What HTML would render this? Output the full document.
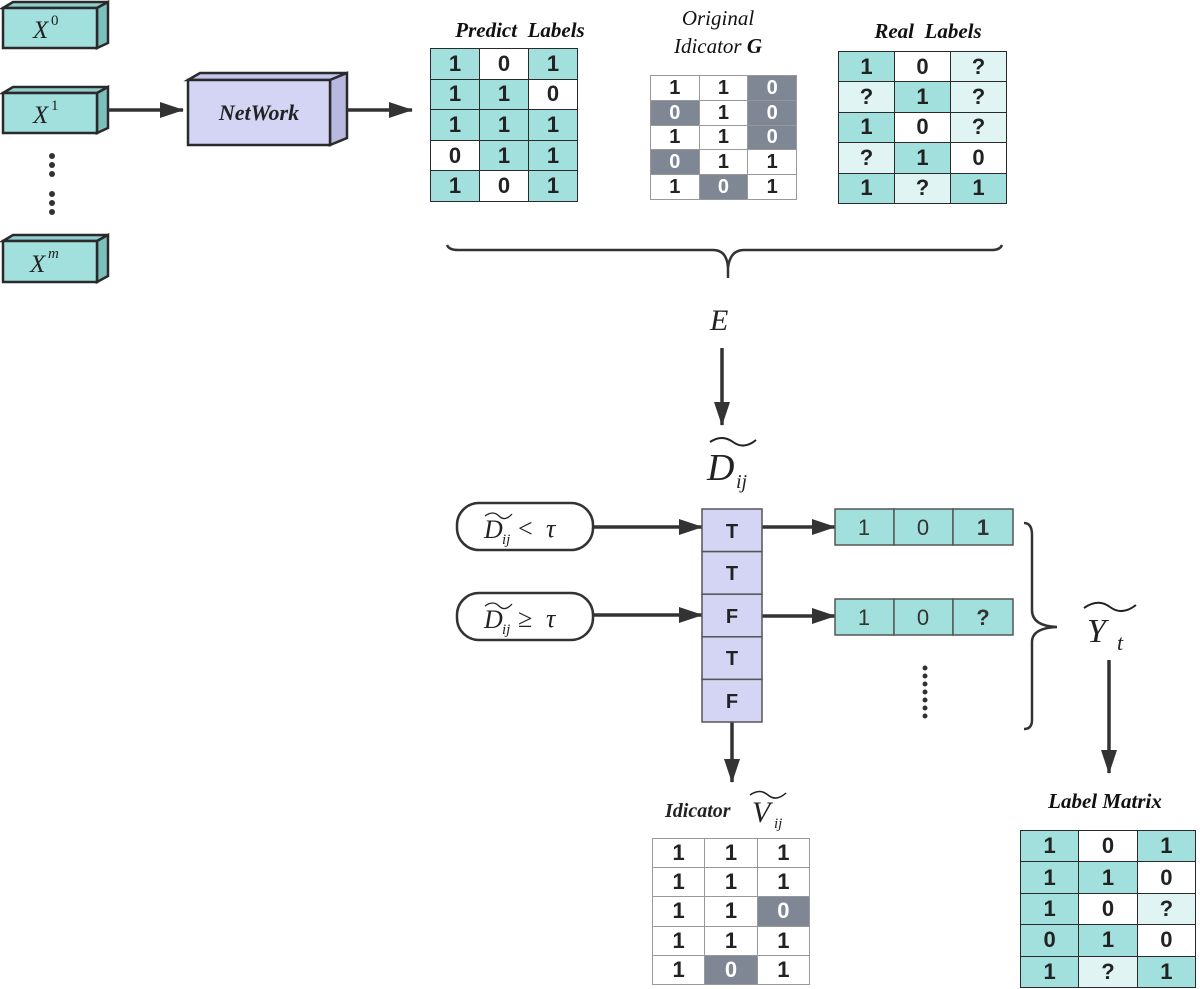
<!DOCTYPE html>
<html><head><meta charset="utf-8"><style>
body{margin:0;width:1200px;height:989px;background:#fff;position:relative;overflow:hidden;font-family:"Liberation Sans",sans-serif}
svg{position:absolute;left:0;top:0}
table{position:absolute;border-collapse:collapse;table-layout:fixed}
td{border:1.5px solid #2a2a2a;text-align:center;font:bold 22px/1 "Liberation Sans",sans-serif;color:#222;padding:0}
.T{background:#a1e0dc}.W{background:#fff}.L{background:#dff4f3}.G{background:#7f8694;color:#fff}
.g td{border-color:#999}
.sm td{font-size:20px}
.ttl{position:absolute;font:italic bold 21px "Liberation Serif",serif;color:#111;text-align:center;white-space:nowrap}
</style></head><body>
<svg width="1200" height="989" viewBox="0 0 1200 989">
<defs>
<marker id="b" markerWidth="24" markerHeight="16" refX="23" refY="8" orient="auto" markerUnits="userSpaceOnUse"><path d="M0,0 L24,8 L0,16z" fill="#333"/></marker></defs>
<g stroke="#2a2a2a" stroke-width="2.5">
<polygon points="3,8 13,2 108,2 97,8" fill="#8fd0cc"/><polygon points="97,8 108,2 108,43 97,48" fill="#7cc0bc"/><rect x="3" y="8" width="94" height="40" fill="#a1e0dc"/>
<polygon points="3,93 13,87 108,87 97,93" fill="#8fd0cc"/><polygon points="97,93 108,87 108,128 97,133" fill="#7cc0bc"/><rect x="3" y="93" width="94" height="40" fill="#a1e0dc"/>
<polygon points="3,241 13,235 108,235 97,241" fill="#8fd0cc"/><polygon points="97,241 108,235 108,276 97,282" fill="#7cc0bc"/><rect x="3" y="241" width="94" height="41" fill="#a1e0dc"/>
<polygon points="188,80 200,73 347,73 330,80" fill="#c4c5ec"/><polygon points="330,80 347,73 347,138 330,145" fill="#b8b9e0"/><rect x="188" y="80" width="142" height="65" fill="#d4d5f5"/>
</g>
<g fill="#333"><circle cx="52" cy="156" r="3"/><circle cx="52" cy="165" r="3"/><circle cx="52" cy="174" r="3"/><circle cx="52" cy="194" r="3"/><circle cx="52" cy="203" r="3"/><circle cx="52" cy="212" r="3"/>
<circle cx="925" cy="668" r="2.5"/><circle cx="925" cy="676" r="2.5"/><circle cx="925" cy="684" r="2.5"/><circle cx="925" cy="692" r="2.5"/><circle cx="925" cy="700" r="2.5"/><circle cx="925" cy="708" r="2.5"/><circle cx="925" cy="716" r="2.5"/></g>
<g stroke="#333" stroke-width="3.5" fill="none">
<line x1="108" y1="110" x2="183" y2="110" marker-end="url(#b)"/>
<line x1="347" y1="110" x2="412" y2="110" marker-end="url(#b)"/>
<line x1="722" y1="348" x2="722" y2="425" marker-end="url(#b)"/>
<line x1="593" y1="527" x2="702" y2="527" marker-end="url(#b)"/>
<line x1="593" y1="615" x2="702" y2="615" marker-end="url(#b)"/>
<line x1="762" y1="527" x2="835" y2="527" marker-end="url(#b)"/>
<line x1="762" y1="616" x2="835" y2="616" marker-end="url(#b)"/>
<line x1="732" y1="722" x2="732" y2="782" marker-end="url(#b)"/>
<line x1="1109" y1="660" x2="1109" y2="773" marker-end="url(#b)"/>
</g>
<g stroke="#333" stroke-width="2.5" fill="none">
<path d="M447,245 Q449,250 458,250 L713,250 Q727,250 728,268 L728,278 M728,268 Q730,250 744,250 L992,250 Q1000,250 1002,245"/>
<path d="M1024,523 Q1032,523 1032,535 L1032,610 Q1032,626 1057,627 Q1032,628 1032,642 L1032,720 Q1032,729 1024,729"/>
<rect x="457" y="503" width="136" height="47" rx="22" fill="#fff"/>
<rect x="457" y="593" width="136" height="47" rx="22" fill="#fff"/>
</g>
<g stroke="#555" stroke-width="1.5">
<rect x="702" y="509" width="60" height="42.6" fill="#d4d5f5"/><rect x="702" y="551.6" width="60" height="42.6" fill="#d4d5f5"/><rect x="702" y="594.2" width="60" height="42.6" fill="#d4d5f5"/><rect x="702" y="636.8" width="60" height="42.6" fill="#d4d5f5"/><rect x="702" y="679.4" width="60" height="42.6" fill="#d4d5f5"/>
<rect x="835" y="509" width="59" height="36" fill="#a1e0dc"/><rect x="894" y="509" width="59" height="36" fill="#a1e0dc"/><rect x="953" y="509" width="60" height="36" fill="#a1e0dc"/>
<rect x="835" y="599" width="59" height="36" fill="#a1e0dc"/><rect x="894" y="599" width="59" height="36" fill="#a1e0dc"/><rect x="953" y="599" width="60" height="36" fill="#a1e0dc"/>
</g>
<g font-family="Liberation Sans" font-weight="bold" font-size="20" fill="#222" text-anchor="middle">
<text x="732" y="538">T</text><text x="732" y="580">T</text><text x="732" y="623">F</text><text x="732" y="665">T</text><text x="732" y="708">F</text>
</g>
<g font-family="Liberation Sans" font-size="22" fill="#333" text-anchor="middle">
<text x="864" y="535">1</text><text x="923" y="535">0</text><text x="983" y="535" font-weight="bold">1</text>
<text x="864" y="625">1</text><text x="923" y="625">0</text><text x="983" y="625" font-weight="bold">?</text>
</g>
<g font-family="Liberation Serif" font-style="italic" fill="#222">
<text x="33" y="38" font-size="25">X</text><text x="51" y="25" font-size="15" font-style="normal">0</text>
<text x="33" y="123" font-size="25">X</text><text x="51" y="110" font-size="15" font-style="normal">1</text>
<text x="30" y="272" font-size="25">X</text><text x="48" y="258" font-size="15">m</text>
<text x="259" y="120" font-size="22" font-weight="bold" text-anchor="middle">NetWork</text>
<text x="710" y="330" font-size="30">E</text>
<text x="707" y="480" font-size="38">D</text><text x="736" y="488" font-size="20">ij</text><path d="M710,442 Q722,434 733,442 T756,440" stroke="#222" stroke-width="2" fill="none"/>
<text x="484" y="538" font-size="26">D</text><text x="502" y="544" font-size="15">ij</text><text x="518" y="537" font-size="26" font-style="normal">&lt;</text><text x="546" y="537" font-size="26">τ</text><path d="M485,516 Q493,510 499,516 T512,514" stroke="#222" stroke-width="1.3" fill="none"/>
<text x="484" y="628" font-size="26">D</text><text x="502" y="634" font-size="15">ij</text><text x="518" y="627" font-size="26" font-style="normal">≥</text><text x="546" y="627" font-size="26">τ</text><path d="M485,606 Q493,600 499,606 T512,604" stroke="#222" stroke-width="1.3" fill="none"/>
<text x="1087" y="642" font-size="34">Y</text><text x="1117" y="650" font-size="22">t</text><path d="M1084,608 Q1098,598 1110,607 T1136,605" stroke="#222" stroke-width="2" fill="none"/>
<text x="665" y="817" font-size="20" font-weight="bold">Idicator</text><text x="752" y="822" font-size="30">V</text><text x="774" y="828" font-size="15">ij</text><path d="M750,795 Q760,788 768,795 T786,793" stroke="#222" stroke-width="1.5" fill="none"/>
</g>
</svg>
<div class="ttl" style="left:430px;top:18px;width:180px">Predict&nbsp; Labels</div>
<div class="ttl" style="left:628px;top:4px;width:180px;line-height:28px;font-weight:normal">Original<br>Idicator <b>G</b></div>
<div class="ttl" style="left:838px;top:19px;width:180px">Real&nbsp; Labels</div>
<div class="ttl" style="left:1015px;top:789px;width:180px">Label Matrix</div>

<table style="left:430px;top:48px;width:148px;height:154px"><tr><td class="T">1</td><td class="W">0</td><td class="T">1</td></tr><tr><td class="T">1</td><td class="T">1</td><td class="W">0</td></tr><tr><td class="T">1</td><td class="T">1</td><td class="T">1</td></tr><tr><td class="W">0</td><td class="T">1</td><td class="T">1</td></tr><tr><td class="T">1</td><td class="W">0</td><td class="T">1</td></tr></table>
<table class="g sm" style="left:650px;top:75px;width:147px;height:125px"><tr><td class="W">1</td><td class="W">1</td><td class="G">0</td></tr><tr><td class="G">0</td><td class="W">1</td><td class="G">0</td></tr><tr><td class="W">1</td><td class="W">1</td><td class="G">0</td></tr><tr><td class="G">0</td><td class="W">1</td><td class="W">1</td></tr><tr><td class="W">1</td><td class="G">0</td><td class="W">1</td></tr></table>
<table style="left:838px;top:51px;width:169px;height:153px"><tr><td class="T">1</td><td class="W">0</td><td class="L">?</td></tr><tr><td class="L">?</td><td class="T">1</td><td class="L">?</td></tr><tr><td class="T">1</td><td class="W">0</td><td class="L">?</td></tr><tr><td class="L">?</td><td class="T">1</td><td class="W">0</td></tr><tr><td class="T">1</td><td class="L">?</td><td class="T">1</td></tr></table>
<table class="g" style="left:652px;top:838px;width:158px;height:147px"><tr><td class="W">1</td><td class="W">1</td><td class="W">1</td></tr><tr><td class="W">1</td><td class="W">1</td><td class="W">1</td></tr><tr><td class="W">1</td><td class="W">1</td><td class="G">0</td></tr><tr><td class="W">1</td><td class="W">1</td><td class="W">1</td></tr><tr><td class="W">1</td><td class="G">0</td><td class="W">1</td></tr></table>
<table style="left:1020px;top:830px;width:176px;height:158px"><tr><td class="T">1</td><td class="W">0</td><td class="T">1</td></tr><tr><td class="T">1</td><td class="T">1</td><td class="W">0</td></tr><tr><td class="T">1</td><td class="W">0</td><td class="L">?</td></tr><tr><td class="T">0</td><td class="T">1</td><td class="W">0</td></tr><tr><td class="T">1</td><td class="L">?</td><td class="T">1</td></tr></table>
</body></html>
